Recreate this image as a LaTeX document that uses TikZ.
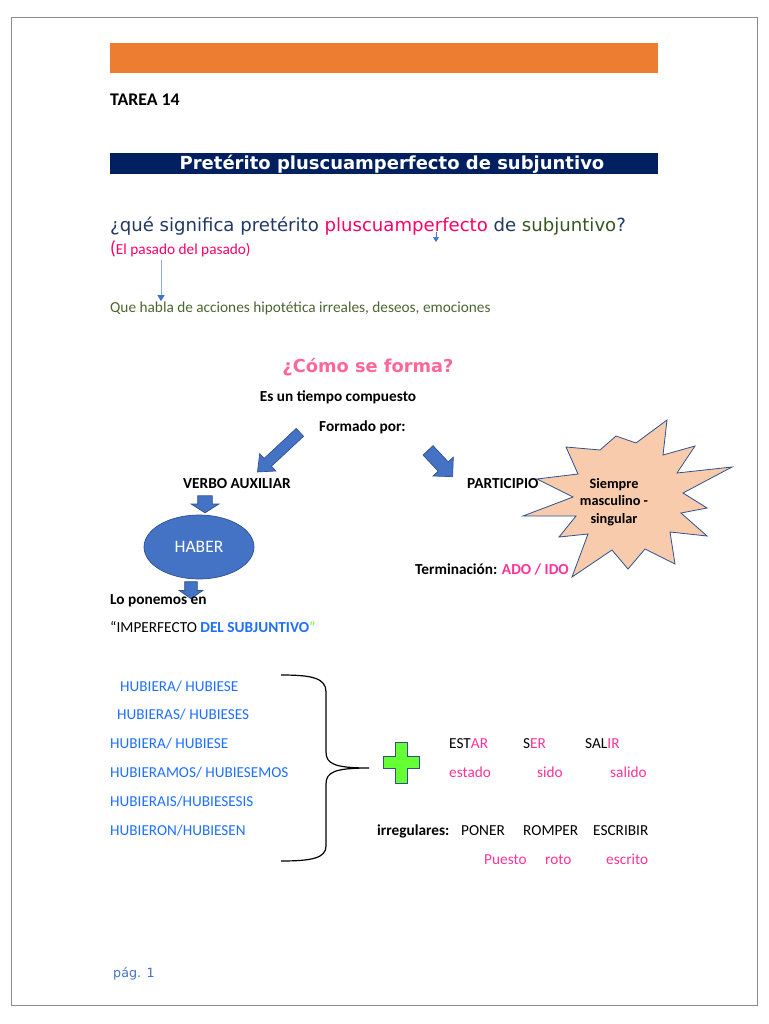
\documentclass[tikz,border=0pt]{standalone}
\usepackage{fontspec}
\setmainfont{Carlito}
\newfontfamily\dejavu{DejaVu Sans}
\usetikzlibrary{shapes.arrows,shapes.geometric,arrows.meta}
\definecolor{orangebar}{HTML}{ED7D31}
\definecolor{navybar}{HTML}{002060}
\definecolor{navytxt}{HTML}{1F3864}
\definecolor{hotpink}{HTML}{FF0066}
\definecolor{pinkB}{HTML}{FF3399}
\definecolor{pinkC}{HTML}{FF6699}
\definecolor{dgreen}{HTML}{375623}
\definecolor{mgreen}{HTML}{4A6630}
\definecolor{listblue}{RGB}{31,111,255}
\definecolor{shapeblue}{HTML}{4472C4}
\definecolor{shapeedge}{HTML}{2F528F}
\definecolor{starfill}{HTML}{F8CBAD}
\definecolor{plusgreen}{HTML}{66FF33}
\definecolor{quotegreen}{HTML}{66FF33}
\definecolor{pageblue}{HTML}{4472C4}
\newcommand{\myfs}[1]{\fontsize{#1}{#1}\selectfont}
\begin{document}
\begin{tikzpicture}[x=1pt,y=-1pt,
  txt/.style={anchor=base west, inner sep=0pt, font=\myfs{15.3}},
  btxt/.style={anchor=base west, inner sep=0pt, font=\myfs{15.3}\bfseries},
  ltxt/.style={anchor=base west, inner sep=0pt, font=\myfs{15.2}, text=listblue},
  barrow/.style={single arrow, fill=shapeblue, draw=shapeedge, line width=0.7pt,
     inner xsep=0pt, single arrow head indent=0pt},
]
\useasboundingbox (0,0) rectangle (768,1024);
% page frame
\draw[draw=gray!90, line width=1pt] (11,18) rectangle (757,1005);
% header bars
\fill[orangebar] (110,43) rectangle (658,73);
\node[btxt, font=\myfs{17.8}\bfseries] (tarea) at (110,106) {TAREA 14};
\fill[navybar] (110,153) rectangle (658,174);
\node[anchor=base, inner sep=0pt, text=white, font=\dejavu\myfs{18}\bfseries] (titulo) at (392,169.5) {Pretérito pluscuamperfecto de subjuntivo};

% question
\node[anchor=base west, inner sep=0pt, font=\dejavu\myfs{18.1}, text=navytxt] (pregunta) at (110,232)
 {¿qué significa pretérito \textcolor{hotpink}{pluscuamperfecto} de \textcolor{dgreen}{subjuntivo}?};
\coordinate (qa1) at (436,232);
\coordinate (qa2) at (436,242);
\draw[shapeblue, line width=0.6pt, -{Triangle[length=5pt,width=6pt]}] (qa1) -- (qa2);
\node[txt, text=hotpink] (pasado) at (110,254) {{\myfs{19}(}El pasado del pasado)};
\coordinate (pa1) at (161,260);
\node[txt, text=mgreen] (quehabla) at (110,312) {Que habla de acciones hipotética irreales, deseos, emociones};
\draw[color=shapeblue!60, line width=0.8pt, -{Triangle[length=6pt,width=7pt,fill=shapeblue,color=shapeblue]}] (pa1) -- (quehabla.north west -| pa1);

% como se forma
\node[anchor=base, inner sep=0pt, font=\dejavu\myfs{17.8}\bfseries, text=pinkC] (como) at (368,372) {¿Cómo se forma?};
\node[btxt, anchor=base] (compuesto) at (338,401) {Es un tiempo compuesto};
\node[btxt] (formado) at (319,431) {Formado por:};
\node[btxt] (verbo) at (183,488) {VERBO AUXILIAR};
\node[btxt] (participio) at (467,488) {PARTICIPIO};

% block arrows
\node[barrow, minimum height=58pt, inner ysep=5pt, single arrow head extend=6.5pt, single arrow tip angle=80, rotate=-137] (a1) at (281,450) {};
\node[barrow, minimum height=36pt, inner ysep=6.5pt, single arrow head extend=7pt, single arrow tip angle=90, rotate=-47] (a2) at (438,461) {};
\node[barrow, minimum height=17pt, inner ysep=7pt, single arrow head extend=6.5pt, single arrow tip angle=115, rotate=-90] (a3) at (205,502) {};

% HABER ellipse
\node[ellipse, fill=shapeblue, draw=shapeedge, line width=0.7pt, minimum width=110pt, minimum height=64pt, inner sep=0pt, text=white, font=\myfs{17.5}] (haber) at (199,547) {HABER};
\node[barrow, minimum height=17pt, inner ysep=6pt, single arrow head extend=5.5pt, single arrow tip angle=110, rotate=-90] (a4) at (191,588) {};

\node[btxt] (term) at (415,574) {Terminación: \textcolor{pinkB}{ADO / IDO}};

% star
\draw[fill=starfill, draw=shapeedge, line width=0.8pt, line join=miter]
 (537,479) -- (578,474) -- (566,447) -- (600,450) -- (616,436) -- (636,443) -- (667,420)
 -- (663,455) -- (695,446) -- (677,473) -- (732,467) -- (683,493) -- (707,508)
 -- (681,513) -- (707,536) -- (670,532) -- (675,564) -- (645,549) -- (628,569)
 -- (612,550) -- (572,577) -- (588,534) -- (559,537) -- (576,516) -- (523,516)
 -- (573,497) -- cycle;
\node[align=center, inner sep=0pt, font=\fontsize{14.3}{17.8}\selectfont\bfseries, text=black] (siempre) at (614,502) {Siempre\\masculino -\\singular};

\node[btxt] (ponemos) at (110,604) {Lo ponemos en};
\node[txt] (imperf) at (110,632) {“IMPERFECTO \textcolor{listblue}{\bfseries DEL SUBJUNTIVO}\textcolor{quotegreen}{”}};

% list
\node[ltxt] (l1) at (120,691) {HUBIERA/ HUBIESE};
\node[ltxt] (l2) at (117,719) {HUBIERAS/ HUBIESES};
\node[ltxt] (l3) at (110,748) {HUBIERA/ HUBIESE};
\node[ltxt] (l4) at (110,777) {HUBIERAMOS/ HUBIESEMOS};
\node[ltxt] (l5) at (110,806) {HUBIERAIS/HUBIESESIS};
\node[ltxt] (l6) at (110,835) {HUBIERON/HUBIESEN};

% brace
\coordinate (bt) at (281,675);
\coordinate (bb) at (281,861);
\coordinate (btip) at (369,768);
\draw[black, line width=1.2pt]
 (bt) .. controls (312,675) and (326,678) .. (326,692) -- (326,752)
 .. controls (326,764) and (335,768) .. (btip)
 .. controls (335,768) and (326,772) .. (326,784) -- (326,846)
 .. controls (326,858) and (312,861) .. (bb);

% plus
\draw[fill=plusgreen, draw=shapeedge, line width=0.8pt]
 (395,742) -- (407,742) -- (407,756) -- (419,756) -- (419,768) -- (407,768) -- (407,783)
 -- (395,783) -- (395,768) -- (383,768) -- (383,756) -- (395,756) -- cycle;
\coordinate (plus) at (401,762);

% participles
\node[txt] (estar) at (449,748) {EST\textcolor{pinkB}{AR}};
\node[txt] (ser) at (523,748) {S\textcolor{pinkB}{ER}};
\node[txt] (salir) at (585,748) {SAL\textcolor{pinkB}{IR}};
\node[txt, text=pinkB] (estado) at (449,777) {estado};
\node[txt, text=pinkB] (sido) at (537,777) {sido};
\node[txt, text=pinkB] (salido) at (610,777) {salido};

\node[btxt] (irreg) at (377,835) {irregulares:};
\node[txt] (poner) at (461,835) {PONER};
\node[txt] (romper) at (523,835) {ROMPER};
\node[txt] (escribir) at (593,835) {ESCRIBIR};
\node[txt, text=pinkB] (puesto) at (484,864) {Puesto};
\node[txt, text=pinkB] (roto) at (545,864) {roto};
\node[txt, text=pinkB] (escrito) at (606,864) {escrito};

\node[anchor=base west, inner sep=0pt, font=\dejavu\myfs{12.7}, text=pageblue] (pag) at (113,977) {pág. 1};
\end{tikzpicture}
\end{document}
